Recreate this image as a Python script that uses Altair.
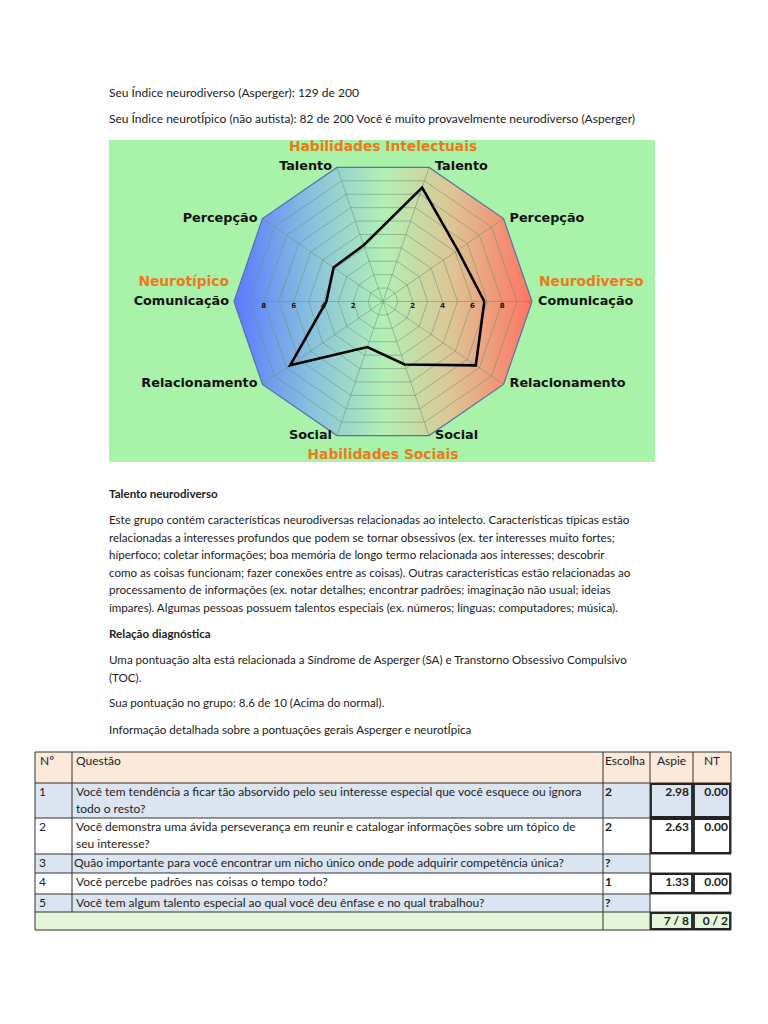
import altair as alt
import pandas as pd
import numpy as np

# ---------------- data ----------------
header_lines = [
    "Seu Índice neurodiverso (Asperger): 129 de 200",
    "Seu Índice neurotÍpico (não autista): 82 de 200 Você é muito provavelmente neurodiverso (Asperger)",
]
section_titles = ["Talento neurodiverso", "Relação diagnóstica"]
para1 = [
    "Este grupo contém características neurodiversas relacionadas ao intelecto. Características típicas estão",
    "relacionadas a interesses profundos que podem se tornar obsessivos (ex. ter interesses muito fortes;",
    "híperfoco; coletar informações; boa memória de longo termo relacionada aos interesses; descobrir",
    "como as coisas funcionam; fazer conexões entre as coisas). Outras características estão relacionadas ao",
    "processamento de informações (ex. notar detalhes; encontrar padrões; imaginação não usual; ideias",
    "ímpares). Algumas pessoas possuem talentos especiais (ex. números; línguas; computadores; música).",
]
para2 = [
    "Uma pontuação alta está relacionada a Síndrome de Asperger (SA) e Transtorno Obsessivo Compulsivo",
    "(TOC).",
]
para3 = ["Sua pontuação no grupo: 8.6 de 10 (Acima do normal)."]
para4 = ["Informação detalhada sobre a pontuações gerais Asperger e neurotÍpica"]

# radar: spokes counter-clockwise starting at the right-hand "Comunicação"
radar_axes = ["Comunicação", "Percepção", "Talento", "Talento", "Percepção",
              "Comunicação", "Relacionamento", "Social", "Social", "Relacionamento"]
radar_values = [6.8, 6.2, 8.5, 4.2, 4.1, 3.8, 7.7, 3.4, 4.7, 7.7]
radar_max = 10
radar_ticks = [2, 4, 6, 8]
group_labels = ["Habilidades Intelectuais", "Neurotípico", "Neurodiverso", "Habilidades Sociais"]

table_header = ["Nº", "Questão", "Escolha", "Aspie", "NT"]
q_numbers = ["1", "2", "3", "4", "5"]
q_text = [
    ["Você tem tendência a ficar tão absorvido pelo seu interesse especial que você esquece ou ignora",
     "todo o resto?"],
    ["Você demonstra uma ávida perseverança em reunir e catalogar informações sobre um tópico de",
     "seu interesse?"],
    ["Quão importante para você encontrar um nicho único onde pode adquirir competência única?"],
    ["Você percebe padrões nas coisas o tempo todo?"],
    ["Você tem algum talento especial ao qual você deu ênfase e no qual trabalhou?"],
]
q_choice = ["2", "2", "?", "1", "?"]
q_aspie = ["2.98", "2.63", "", "1.33", ""]
q_nt = ["0.00", "0.00", "", "0.00", ""]
totals = ["7 / 8", "0 / 2"]

# ---------------- layout ----------------
W, H = 752, 1008
XS = alt.Scale(domain=[8, 8 + W], range=[0, W])
YS = alt.Scale(domain=[8, 8 + H], range=[0, H])
DOC_FONT = "Lato"
DOC_FS = 11.6
TXT = "#222222"


def enc(chart, **extra):
    return chart.encode(
        x=alt.X("x:Q", scale=XS, axis=None),
        y=alt.Y("y:Q", scale=YS, axis=None),
        **extra,
    )


def text_layer(rows, **kw):
    df = pd.DataFrame(rows, columns=["t", "x", "y"])
    base = dict(font=DOC_FONT, fontSize=DOC_FS, color=TXT, align="left", baseline="middle")
    base.update(kw)
    return enc(alt.Chart(df).mark_text(**base), text="t:N")


def rule_layer(rows, **kw):
    df = pd.DataFrame(rows, columns=["x", "x2", "y", "y2"])
    return alt.Chart(df).mark_rule(**kw).encode(
        x=alt.X("x:Q", scale=XS, axis=None), x2="x2:Q",
        y=alt.Y("y:Q", scale=YS, axis=None), y2="y2:Q",
    )


def rect_layer(rows, **kw):
    df = pd.DataFrame(rows, columns=["x", "x2", "y", "y2", "fill"])
    return alt.Chart(df).mark_rect(**kw).encode(
        x=alt.X("x:Q", scale=XS, axis=None), x2="x2:Q",
        y=alt.Y("y:Q", scale=YS, axis=None), y2="y2:Q",
        fill=alt.Fill("fill:N", scale=None),
    )


layers = []

# ---- document text ----
TEXT_X = 109
LINE = 17.6
layers.append(text_layer([(header_lines[0], TEXT_X, 93), (header_lines[1], TEXT_X, 119)], fontSize=12))
layers.append(text_layer([(section_titles[0], TEXT_X, 495), (section_titles[1], TEXT_X, 635)],
                         fontWeight="bold"))
body = []
for i, s in enumerate(para1):
    body.append((s, TEXT_X, 521 + i * LINE))
for i, s in enumerate(para2):
    body.append((s, TEXT_X, 661 + i * LINE))
body.append((para3[0], TEXT_X, 704))
body.append((para4[0], TEXT_X, 731))
layers.append(text_layer(body))

# ---- radar chart ----
BG = (109, 655, 140, 462)
layers.append(rect_layer([(BG[0], BG[1], BG[2], BG[3], "#a9f2a9")]))

CX, CY = 383, 301.5
UX, UY = 14.9, 14.1
n = len(radar_axes)
ang = np.arange(n) * 2 * np.pi / n


def pt(v, k):
    a = ang[k % n]
    return CX + v * UX * np.cos(a), CY - v * UY * np.sin(a)


outer = pd.DataFrame([dict(k=k, x=pt(radar_max, k)[0], y=pt(radar_max, k)[1]) for k in range(n + 1)])
grad = alt.Gradient(
    gradient="linear",
    stops=[
        alt.GradientStop(color="#5a78ff", offset=0),
        alt.GradientStop(color="#86bfe0", offset=0.25),
        alt.GradientStop(color="#b2f0b6", offset=0.5),
        alt.GradientStop(color="#dcc896", offset=0.72),
        alt.GradientStop(color="#ff7462", offset=1),
    ],
    x1=0, x2=1, y1=0, y2=0,
)
layers.append(enc(alt.Chart(outer).mark_line(fill=grad, stroke="#5b6fa8", strokeWidth=1.2),
                  order="k:Q"))

rings = []
for r in range(1, radar_max):
    for k in range(n + 1):
        x, y = pt(r, k)
        rings.append(dict(r=r, k=k, x=x, y=y))
layers.append(enc(alt.Chart(pd.DataFrame(rings)).mark_line(stroke="#6f8f78", strokeWidth=0.7, opacity=0.8),
                  detail="r:N", order="k:Q"))

spokes = []
for k in range(n):
    x, y = pt(radar_max, k)
    spokes.append((CX, x, CY, y))
layers.append(rule_layer(spokes, stroke="#6f8f78", strokeWidth=0.7, opacity=0.8))

ticks = []
for v in radar_ticks:
    ticks.append((str(v), CX + v * UX, CY + 4))
    ticks.append((str(v), CX - v * UX, CY + 4))
layers.append(text_layer(ticks, font="DejaVu Sans", fontSize=7, fontWeight="bold", color="#111111",
                         align="center"))

data_pts = pd.DataFrame([dict(k=k, x=pt(radar_values[k % n], k)[0], y=pt(radar_values[k % n], k)[1])
                         for k in range(n + 1)])
layers.append(enc(alt.Chart(data_pts).mark_line(stroke="#000000", strokeWidth=2.6, strokeJoin="miter"),
                  order="k:Q"))

right_lab, left_lab = [], []
for k in range(n):
    x, y = pt(radar_max, k)
    if np.cos(ang[k]) > 0.01:
        right_lab.append((radar_axes[k], x + 6, y - 1))
    else:
        left_lab.append((radar_axes[k], x - 5, y - 1))
LAB = dict(font="DejaVu Sans", fontSize=12.8, fontWeight="bold", color="#111111")
layers.append(text_layer(right_lab, align="left", **LAB))
layers.append(text_layer(left_lab, align="right", **LAB))

ORANGE = "#ec7a1c"
OLAB = dict(font="DejaVu Sans", fontSize=13.8, fontWeight="bold", color=ORANGE)
layers.append(text_layer([(group_labels[0], CX, BG[2] + 7), (group_labels[3], CX, BG[3] - 7)],
                         align="center", **OLAB))
xl, _ = pt(radar_max, 5)
xr, _ = pt(radar_max, 0)
layers.append(text_layer([(group_labels[1], xl - 5, CY - 20)], align="right", **OLAB))
layers.append(text_layer([(group_labels[2], xr + 7, CY - 20)], align="left", **OLAB))

# ---- table ----
cols = [35, 72, 603, 650, 693, 731]
rows_e = [752, 783, 818, 854, 873, 894, 912, 930]
fills = ["#fde9d9", "#dbe5f1", "#ffffff", "#dbe5f1", "#ffffff", "#dbe5f1", "#e3f6da"]
boxed = [True, True, True, False, True, False, True]
fr = []
for i, f in enumerate(fills):
    right = cols[5] if boxed[i] else cols[3]
    fr.append((cols[0], right, rows_e[i], rows_e[i + 1], f))
layers.append(rect_layer(fr))

LINEC = "#333333"
hl = [(cols[0], cols[5], y, y) for y in rows_e]
layers.append(rule_layer(hl, stroke=LINEC, strokeWidth=1))
vl = [(cols[0], cols[0], rows_e[0], rows_e[-1]),
      (cols[1], cols[1], rows_e[0], rows_e[-2]),
      (cols[2], cols[2], rows_e[0], rows_e[-1]),
      (cols[3], cols[3], rows_e[0], rows_e[-1])]
for i in range(len(fills)):
    if boxed[i]:
        vl.append((cols[4], cols[4], rows_e[i], rows_e[i + 1]))
        vl.append((cols[5], cols[5], rows_e[i], rows_e[i + 1]))
layers.append(rule_layer(vl, stroke=LINEC, strokeWidth=1))
bx = []
for i in range(1, len(fills)):
    if boxed[i]:
        bx.append((cols[3] + 1, cols[4] - 1, rows_e[i] + 1, rows_e[i + 1] - 1, "none"))
        bx.append((cols[4] + 1, cols[5] - 1, rows_e[i] + 1, rows_e[i + 1] - 1, "none"))
layers.append(rect_layer(bx, stroke="#222222", strokeWidth=1.8, fillOpacity=0))

TFS = 12
hdr = [(table_header[0], cols[0] + 5, rows_e[0] + 9),
       (table_header[1], cols[1] + 4, rows_e[0] + 9),
       (table_header[2], cols[2] + 2, rows_e[0] + 9)]
layers.append(text_layer(hdr, fontSize=TFS))
layers.append(text_layer([(table_header[3], (cols[3] + cols[4]) / 2, rows_e[0] + 9),
                          (table_header[4], (cols[4] + cols[5]) / 2, rows_e[0] + 9)],
                         fontSize=TFS, align="center"))
qt, qn, qc, qa, qnt = [], [], [], [], []
for i in range(5):
    top = rows_e[i + 1] + 9
    qn.append((q_numbers[i], cols[0] + 4, top))
    indent = 2 if q_choice[i] == "?" and i == 2 else 4
    for j, s in enumerate(q_text[i]):
        qt.append((s, cols[1] + indent, top + j * 17))
    qc.append((q_choice[i], cols[2] + 2, top))
    qa.append((q_aspie[i], cols[4] - 4, top))
    qnt.append((q_nt[i], cols[5] - 3, top))
layers.append(text_layer(qn, fontSize=TFS))
layers.append(text_layer(qt, fontSize=TFS))
layers.append(text_layer(qc, fontSize=TFS, fontWeight="bold"))
layers.append(text_layer(qa + [(totals[0], cols[4] - 4, rows_e[6] + 9)], fontSize=TFS,
                         fontWeight="bold", align="right"))
layers.append(text_layer(qnt + [(totals[1], cols[5] - 3, rows_e[6] + 9)], fontSize=TFS,
                         fontWeight="bold", align="right"))

chart = alt.layer(*layers).properties(
    width=W, height=H, padding=0, autosize="none", background="white"
).configure_view(stroke=None)

chart.save("out.html", embed_options={"renderer": "svg", "actions": False})
